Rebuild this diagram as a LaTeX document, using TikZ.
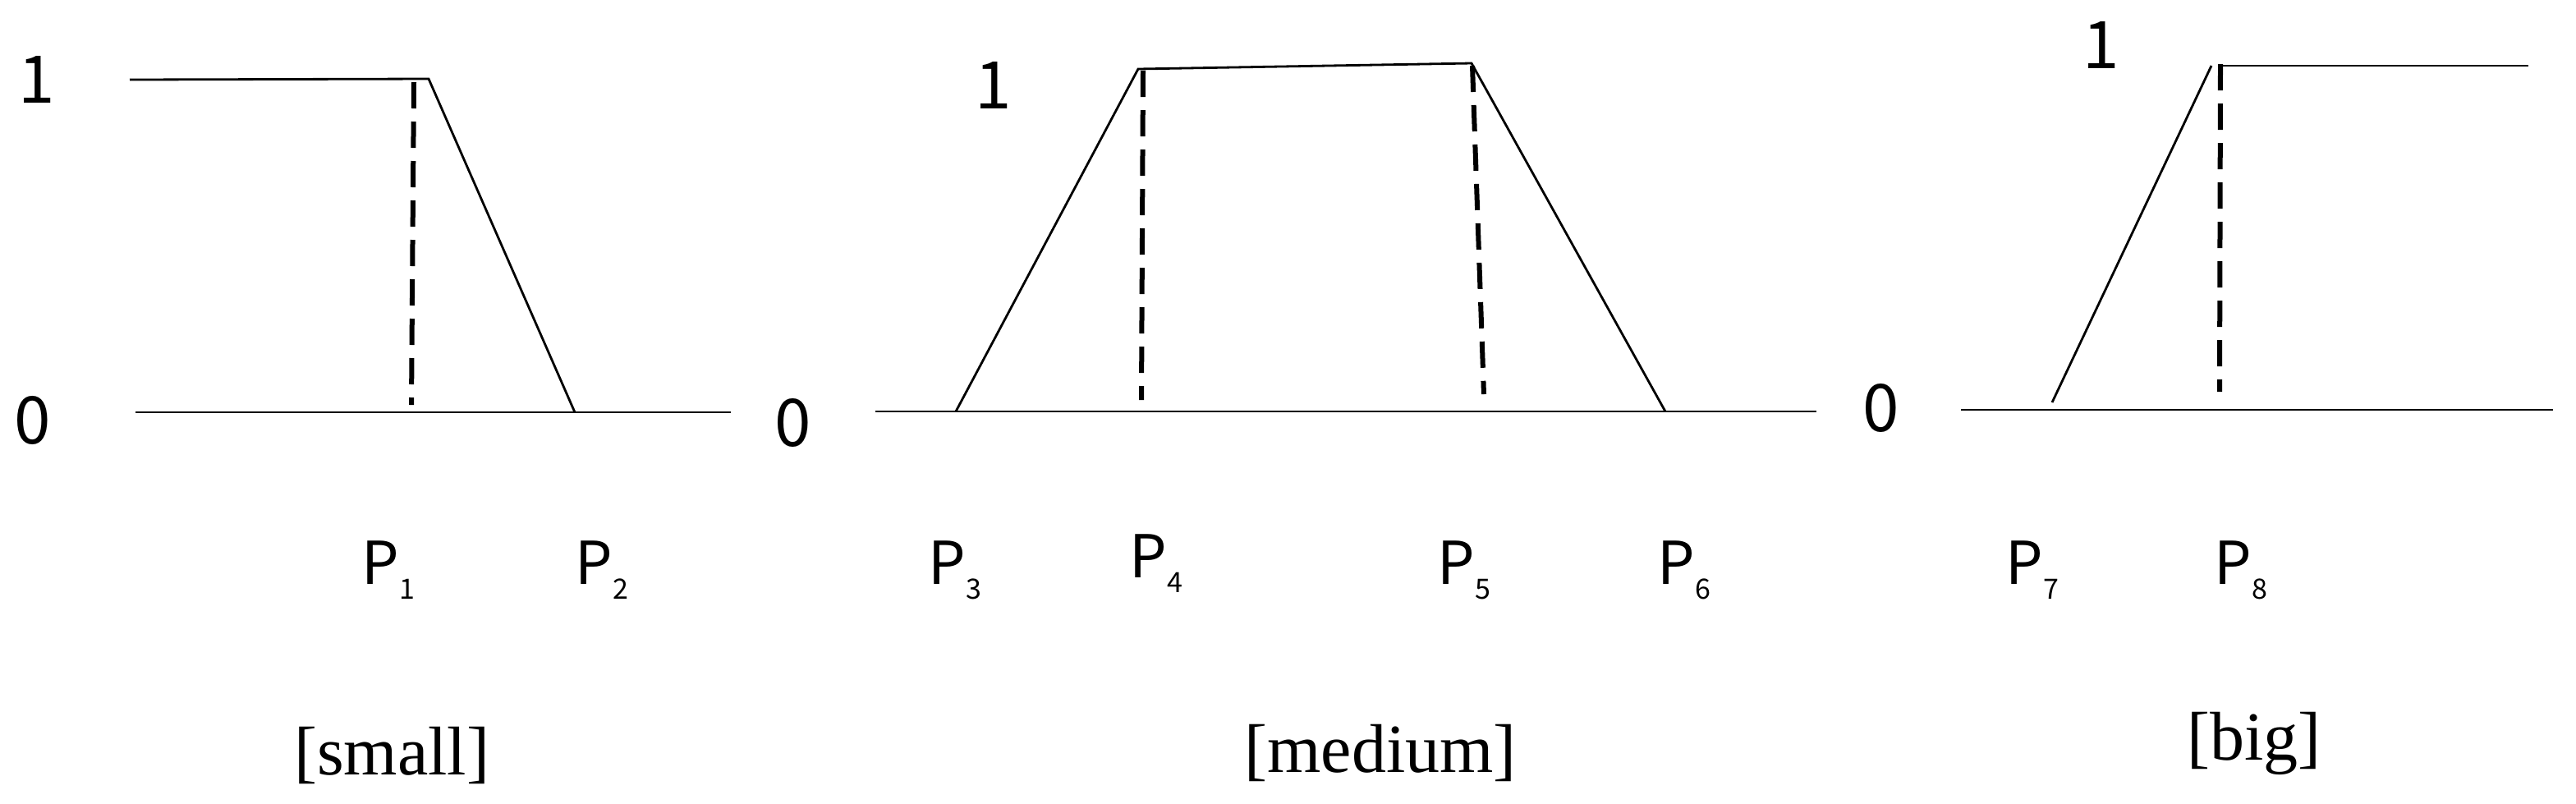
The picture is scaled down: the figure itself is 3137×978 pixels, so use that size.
\documentclass[tikz,border=0pt]{standalone}
\usepackage{fontspec}
\setmainfont{Liberation Serif}
\newfontfamily\lblfont{Noto Sans CJK SC}
\tikzset{
  curve/.style={line width=0.7pt},
  guide/.style={line width=1.5pt, dash pattern=on 8pt off 4pt},
  num/.style={font=\lblfont\fontsize{20}{20}\selectfont, inner sep=0pt},
  plbl/.style={font=\lblfont\fontsize{18}{18}\selectfont, inner sep=0pt, anchor=base west},
  captext/.style={font=\fontsize{21}{21}\selectfont, inner sep=0pt}
}
\newcommand{\Psub}[1]{P\raisebox{-4.5pt}{\fontsize{8.5}{8.5}\selectfont #1}}
\begin{document}
\begin{tikzpicture}[x=0.25pt,y=-0.25pt]
\useasboundingbox (0,0) rectangle (3137,978);
% panel 1
\coordinate (a0) at (158,97);
\coordinate (a1) at (522,96);
\coordinate (a2) at (700,502);
\coordinate (b0) at (165,502);
\coordinate (b1) at (890,502);
\coordinate (d1t) at (504,100);
\coordinate (d1b) at (501,493);
\draw[curve] (a0) -- (a1) -- (a2);
\draw[curve] (b0) -- (b1);
\draw[guide] (d1t) -- (d1b);
\node[num] (one1) at (45,97) {1};
\node[num] (zero1) at (40,512) {0};
\node[plbl] (p1) at (440,711) {\Psub{1}};
\node[plbl] (p2) at (700,711) {\Psub{2}};
\node[captext] (small) at (477,920) {[small]};
% panel 2
\coordinate (c0) at (1066,501);
\coordinate (c1) at (2212,501);
\coordinate (m3) at (1164,501);
\coordinate (m4) at (1386,84);
\coordinate (m5) at (1792,77);
\coordinate (m6) at (2028,501);
\draw[curve] (c0) -- (c1);
\draw[curve] (m3) -- (m4) -- (m5) -- (m6);
\coordinate (d4t) at (1392,86);
\coordinate (d4b) at (1390,487);
\coordinate (d5t) at (1793,80);
\coordinate (d5b) at (1807,480);
\draw[guide] (d4t) -- (d4b);
\draw[guide] (d5t) -- (d5b);
\node[num] (one2) at (1210,104) {1};
\node[num] (zero2) at (966,515) {0};
\node[plbl] (p3) at (1130,711) {\Psub{3}};
\node[plbl] (p4) at (1375,703) {\Psub{4}};
\node[plbl] (p5) at (1750,711) {\Psub{5}};
\node[plbl] (p6) at (2018,711) {\Psub{6}};
\node[captext] (medium) at (1681,917) {[medium]};
% panel 3
\coordinate (e0) at (2388,499);
\coordinate (e1) at (3109,499);
\coordinate (g0) at (2499,490);
\coordinate (g1) at (2693,80);
\coordinate (g2) at (2705,80);
\coordinate (g3) at (3079,80);
\draw[curve] (e0) -- (e1);
\draw[curve] (g0) -- (g1);
\draw[curve] (g2) -- (g3);
\coordinate (d8t) at (2704,78);
\coordinate (d8b) at (2703,477);
\draw[guide] (d8t) -- (d8b);
\node[num] (one3) at (2559,55) {1};
\node[num] (zero3) at (2291,497) {0};
\node[plbl] (p7) at (2442,711) {\Psub{7}};
\node[plbl] (p8) at (2696,711) {\Psub{8}};
\node[captext] (big) at (2745,905) {[big]};
\end{tikzpicture}
\end{document}
